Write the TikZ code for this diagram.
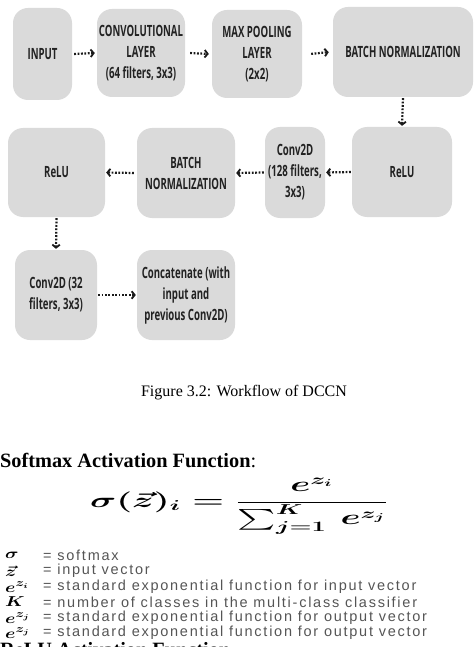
\documentclass[tikz,border=0pt]{standalone}
\usepackage{fontspec}
\usepackage{amsmath}
\usepackage{graphicx}
\setmainfont{Liberation Serif}
\newfontfamily\boxfont[FakeStretch=0.62]{Open Sans}
\newfontfamily\legfont[LetterSpace=12]{Liberation Sans}
\usetikzlibrary{arrows.meta}
\definecolor{boxgray}{HTML}{DADADA}
\definecolor{arrowcol}{HTML}{1A1A1A}
\definecolor{boxtext}{HTML}{222222}
\definecolor{legtext}{HTML}{555555}
\newsavebox{\fmlbox}
\newsavebox{\symsigma}
\newsavebox{\symz}
\newsavebox{\symezi}
\newsavebox{\symK}
\newsavebox{\symezj}
\tikzset{
  stage/.style={draw=none, fill=boxgray, rounded corners=15pt, align=center,
    inner sep=0pt, text=boxtext,
    font=\boxfont\bfseries\fontsize{15.5}{21}\selectfont},
  flow/.style={arrowcol, line width=2.2pt, dash pattern=on 1.8pt off 1.6pt,
    -{Straight Barb[length=3pt,width=7.5pt,line width=1.8pt]}, shorten >=1pt, shorten <=1pt},
  legsym/.style={anchor=west, inner sep=0pt},
  legtxt/.style={anchor=west, inner sep=0pt, text=legtext, font=\legfont\fontsize{14.5}{16}\selectfont}
}
\begin{document}
\sbox{\fmlbox}{\scalebox{1.75}[1]{\fontsize{20}{24}\selectfont\boldmath$\displaystyle \sigma(\vec{z})_i = \frac{e^{z_i}}{\sum_{j=1}^{K}\, e^{z_j}}$}}%
\sbox{\symsigma}{\scalebox{1.3}[1]{\fontsize{15}{17}\selectfont\boldmath$\sigma$}}%
\sbox{\symz}{\scalebox{1.3}[1]{\fontsize{15}{17}\selectfont\boldmath$\vec{z}$}}%
\sbox{\symezi}{\scalebox{1.3}[1]{\fontsize{15}{17}\selectfont\boldmath$e^{z_i}$}}%
\sbox{\symK}{\scalebox{1.3}[1]{\fontsize{15}{17}\selectfont\boldmath$K$}}%
\sbox{\symezj}{\scalebox{1.3}[1]{\fontsize{15}{17}\selectfont\boldmath$e^{z_j}$}}%
\begin{tikzpicture}[x=1pt,y=-1pt]
\useasboundingbox (0,0) rectangle (474,647);
\clip (0,0) rectangle (474,647);
% row 1
\node[stage, minimum width=59pt, minimum height=92pt] (in) at (42.5,54) {INPUT};
\node[stage, minimum width=88pt, minimum height=88pt] (conv) at (141,53) {CONVOLUTIONAL\\LAYER\\(64 filters, 3x3)};
\node[stage, minimum width=90pt, minimum height=88pt] (pool) at (257,54) {MAX POOLING\\LAYER\\(2x2)};
\node[stage, minimum width=140pt, minimum height=90pt] (bn1) at (403,52) {BATCH NORMALIZATION};
% row 2
\node[stage, minimum width=100pt, minimum height=90pt] (relu2) at (402,172) {ReLU};
\node[stage, minimum width=60pt, minimum height=91pt] (c128) at (295,172.5) {Conv2D\\(128 filters,\\3x3)};
\node[stage, minimum width=98pt, minimum height=90pt] (bn2) at (186,173) {BATCH\\NORMALIZATION};
\node[stage, minimum width=97pt, minimum height=89pt] (relu1) at (56.5,172.5) {ReLU};
% row 3
\node[stage, minimum width=82pt, minimum height=90pt] (c32) at (56,295) {Conv2D (32\\filters, 3x3)};
\node[stage, minimum width=98pt, minimum height=90pt] (cat) at (186,295) {Concatenate (with\\input and\\previous Conv2D)};
% connectors
\draw[flow] ([xshift=1pt]in.east) -- ([xshift=-1pt]conv.west);
\draw[flow] ([xshift=4pt]conv.east) -- ([xshift=-2pt]pool.west);
\draw[flow] ([xshift=8pt]pool.east) -- ([xshift=-3pt]bn1.west);
\draw[flow] (bn1.south) -- (relu2.north);
\draw[flow] (relu2.west) -- (c128.east);
\draw[flow] (c128.west) -- (bn2.east);
\draw[flow] ([xshift=-2pt]bn2.west) -- (relu1.east);
\draw[flow] (relu1.south) -- (c32.north);
\draw[flow] (c32.east) -- (cat.west);
% caption
\node[inner sep=0pt, font=\fontsize{16}{19}\selectfont] (cap) at (244,393) {Figure 3.2: Workflow of DCCN};
% softmax title
\node[anchor=west, inner sep=0pt, font=\fontsize{20.3}{23}\selectfont] (smt) at (0,460) {\textbf{Softmax Activation Function}:};
% formula
\node[inner sep=0pt] (fml) at (239,506) {\usebox{\fmlbox}};
% legend
\node[legsym] (s1) at (5,555) {\usebox{\symsigma}};
\node[legsym] (s2) at (5,571) {\usebox{\symz}};
\node[legsym] (s3) at (5,587) {\usebox{\symezi}};
\node[legsym] (s4) at (5,602) {\usebox{\symK}};
\node[legsym] (s5) at (5,618) {\usebox{\symezj}};
\node[legsym] (s6) at (5,633) {\usebox{\symezj}};
\node[legtxt] (t1) at (43,555) {= softmax};
\node[legtxt] (t2) at (43,571) {= input vector};
\node[legtxt] (t3) at (43,587) {= standard exponential function for input vector};
\node[legtxt] (t4) at (43,602) {= number of classes in the multi-class classifier};
\node[legtxt] (t5) at (43,618) {= standard exponential function for output vector};
\node[legtxt] (t6) at (43,633) {= standard exponential function for output vector};
% cut-off next heading
\node[anchor=base west, inner sep=0pt, font=\fontsize{20.3}{23}\selectfont\bfseries] (relut) at (0,656.5) {ReLU Activation Function};
\end{tikzpicture}
\end{document}
